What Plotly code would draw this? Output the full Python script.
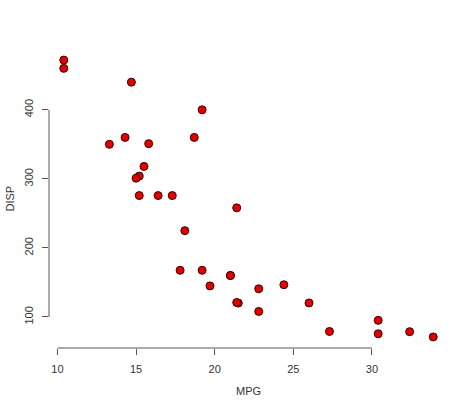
import plotly.graph_objects as go

# mtcars: miles per gallon vs displacement
mpg = [21.0, 21.0, 22.8, 21.4, 18.7, 18.1, 14.3, 24.4, 22.8, 19.2, 17.8,
       16.4, 17.3, 15.2, 10.4, 10.4, 14.7, 32.4, 30.4, 33.9, 21.5, 15.5,
       15.2, 13.3, 19.2, 27.3, 26.0, 30.4, 15.8, 19.7, 15.0, 21.4]
disp = [160, 160, 108, 258, 360, 225, 360, 146.7, 140.8, 167.6, 167.6,
        275.8, 275.8, 275.8, 472, 460, 440, 78.7, 75.7, 71.1, 120.1, 318,
        304, 350, 400, 79, 120.3, 95.1, 351, 145, 301, 121]
x_ticks = [10, 15, 20, 25, 30]
y_ticks = [100, 200, 300, 400]


def r_range(vals):
    # R's default 4% axis extension
    lo, hi = min(vals), max(vals)
    pad = (hi - lo) * 0.04
    return [lo - pad, hi + pad]


axis_col = '#555555'
font = dict(family='Liberation Sans, Arial', size=11, color='#333333')

fig = go.Figure(go.Scatter(
    x=mpg, y=disp, mode='markers',
    marker=dict(size=8, color='#e00000', line=dict(color='#3a0000', width=1)),
))

# axis lines only from first to last tick, like base R
fig.add_shape(type='line', xref='x', yref='paper', x0=min(x_ticks), x1=max(x_ticks),
              y0=0, y1=0, line=dict(color=axis_col, width=1))
fig.add_shape(type='line', xref='paper', yref='y', x0=0, x1=0,
              y0=min(y_ticks), y1=max(y_ticks), line=dict(color=axis_col, width=1))

# axis titles as annotations (standoff is ignored without automargin)
fig.add_annotation(text='MPG', xref='paper', yref='paper', x=0.5, y=0,
                   yanchor='middle', yshift=-43, showarrow=False)
fig.add_annotation(text='DISP', xref='paper', yref='paper', x=0, y=0.5,
                   xanchor='center', textangle=-90, xshift=-40, showarrow=False)

fig.update_layout(
    width=474, height=410,
    margin=dict(l=49, r=26, t=49, b=62),
    paper_bgcolor='white', plot_bgcolor='white',
    font=font, showlegend=False,
)
fig.update_xaxes(
    range=r_range(mpg), tickvals=x_ticks, showgrid=False, zeroline=False,
    showline=False, ticks='outside', ticklen=6, tickcolor=axis_col,
    ticklabelstandoff=5, automargin=False,
)
fig.update_yaxes(
    range=r_range(disp), tickvals=y_ticks, showgrid=False, zeroline=False,
    showline=False, ticks='outside', ticklen=6, tickcolor=axis_col,
    tickangle=-90, ticklabelstandoff=5, automargin=False,
)

# drop the default 8px page margin so the figure fills the window
fig.write_html("out.html", config={'displayModeBar': False},
               post_script="document.body.style.margin='0';")
